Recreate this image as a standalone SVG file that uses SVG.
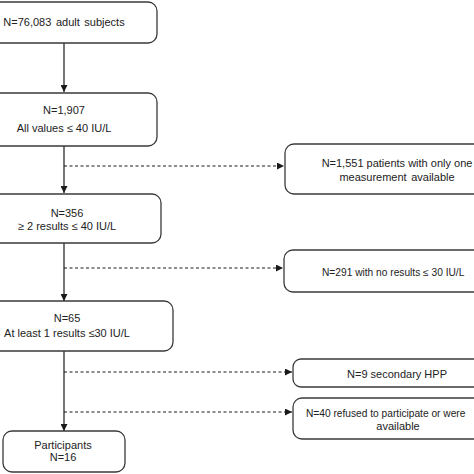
<svg xmlns="http://www.w3.org/2000/svg" width="474" height="474" viewBox="0 0 474 474">
<defs>
<marker id="ah" viewBox="0 0 8 8" refX="8" refY="4" markerWidth="7" markerHeight="7" markerUnits="userSpaceOnUse" orient="auto">
<path d="M0,0 L8,4 L0,8 Z" fill="#1a1a1a"/>
</marker>
</defs>
<style>
.box{fill:#fff;stroke:#3a3a3a;stroke-width:1.3}
.t{font-family:"Liberation Sans",Arial,sans-serif;font-size:11px;fill:#222;text-anchor:middle}
.s{text-anchor:start;font-size:10.2px}
.solid{stroke:#1a1a1a;stroke-width:1.2;fill:none}
.dash{stroke:#1a1a1a;stroke-width:1.2;fill:none;stroke-dasharray:3,2.5}
</style>
<rect width="474" height="474" fill="#fff"/>
<g id="connectors">
<line class="solid" x1="64" y1="43" x2="64" y2="92" marker-end="url(#ah)"/>
<line class="solid" x1="64" y1="146" x2="64" y2="193" marker-end="url(#ah)"/>
<line class="solid" x1="64" y1="243" x2="64" y2="301" marker-end="url(#ah)"/>
<line class="solid" x1="64" y1="351" x2="64" y2="431" marker-end="url(#ah)"/>
<line class="dash" x1="64" y1="166" x2="284" y2="166" marker-end="url(#ah)"/>
<line class="dash" x1="64" y1="268" x2="283" y2="268" marker-end="url(#ah)"/>
<line class="dash" x1="64" y1="372" x2="292" y2="372" marker-end="url(#ah)"/>
<line class="dash" x1="64" y1="412" x2="292" y2="412" marker-end="url(#ah)"/>
</g>
<g id="n1">
<rect class="box" x="-29" y="2" width="186" height="41" rx="9"/>
<text class="t" x="64" y="26" word-spacing="1.5">N=76,083 adult subjects</text>
</g>
<g id="n2">
<rect class="box" x="-29" y="93" width="186" height="53" rx="9"/>
<text class="t" x="64" y="114">N=1,907</text>
<text class="t" x="64" y="132">All values ≤ 40 IU/L</text>
</g>
<g id="n3">
<rect class="box" x="-27" y="194" width="188" height="49" rx="9"/>
<text class="t" x="67" y="217">N=356</text>
<text class="t" x="67" y="230">≥ 2 results ≤ 40 IU/L</text>
</g>
<g id="n4">
<rect class="box" x="-39" y="301" width="212" height="50" rx="9"/>
<text class="t" x="67" y="322">N=65</text>
<text class="t" x="67" y="337">At least 1 results ≤30 IU/L</text>
</g>
<g id="n5">
<rect class="box" x="3" y="431" width="122" height="41" rx="9"/>
<text class="t" x="63" y="449">Participants</text>
<text class="t" x="63" y="461">N=16</text>
</g>
<g id="e1">
<rect class="box" x="285" y="144" width="224" height="50" rx="9"/>
<text class="t" x="397" y="167">N=1,551 patients with only one</text>
<text class="t" x="397" y="181" word-spacing="1.5">measurement available</text>
</g>
<g id="e2">
<rect class="box" x="284" y="250" width="227" height="42" rx="9"/>
<text class="t s" x="322" y="276">N=291 with no results ≤ 30 IU/L</text>
</g>
<g id="e3">
<rect class="box" x="293" y="359" width="208" height="28" rx="8"/>
<text class="t" x="397" y="378">N=9 secondary HPP</text>
</g>
<g id="e4">
<rect class="box" x="293" y="398" width="208" height="41" rx="9"/>
<text class="t s" x="306" y="417">N=40 refused to participate or were</text>
<text class="t" x="398" y="430">available</text>
</g>
</svg>
